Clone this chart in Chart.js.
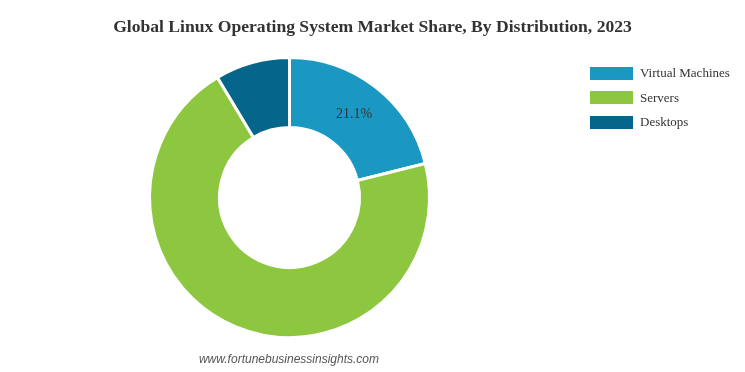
<!DOCTYPE html>
<html>
<head>
<meta charset="utf-8">
<script src="https://cdn.jsdelivr.net/npm/chart.js@4.4.1/dist/chart.umd.min.js"></script>
<style>
    body { margin: 0; background: #fff; }
    #wrap { position: relative; width: 745px; height: 372px; }
    #chart { position: absolute; left: 0; top: 0; }
    #title { position: absolute; left: 0; width: 745px; top: 16px; text-align: center; font-family: "Liberation Serif", "Times New Roman", serif; font-weight: bold; font-size: 17.6px; color: #333; }
    #legend { position: absolute; left: 590px; top: 61px; font-family: "Liberation Serif", "Times New Roman", serif; font-size: 13px; color: #333; }
    .item { display: flex; align-items: center; height: 24.5px; }
    .box { width: 43px; height: 13px; margin-right: 7px; }
    #watermark { position: absolute; left: 0; width: 578px; top: 352px; text-align: center; font-family: "Liberation Sans", Arial, sans-serif; font-style: italic; font-size: 12px; color: #555; }
</style>
</head>
<body>
<div id="wrap">
    <canvas id="chart" width="745" height="372"></canvas>
    <div id="title">Global Linux Operating System Market Share, By Distribution, 2023</div>
    <div id="legend"></div>
    <div id="watermark">www.fortunebusinessinsights.com</div>
</div>
<script>
// Dữ liệu biểu đồ
const labels = ['Virtual Machines', 'Servers', 'Desktops'];
const shares = [21.1, 70.3, 8.6];
const colors = ['#1b98c2', '#8dc63f', '#05658a'];
const shownLabels = ['21.1%', '', ''];

// Vẽ nhãn phần trăm trên lát
const sliceLabels = {
    id: 'sliceLabels',
    afterDatasetsDraw(chart) {
        const ctx = chart.ctx;
        const meta = chart.getDatasetMeta(0);
        ctx.save();
        ctx.font = '14px "Liberation Serif", "Times New Roman", serif';
        ctx.fillStyle = '#333';
        ctx.textAlign = 'center';
        ctx.textBaseline = 'middle';
        meta.data.forEach((arc, i) => {
            if (!shownLabels[i]) return;
            const p = arc.tooltipPosition();
            ctx.fillText(shownLabels[i], p.x, p.y);
        });
        ctx.restore();
    }
};

const ctx = document.getElementById('chart').getContext('2d');
const chart = new Chart(ctx, {
    type: 'doughnut',
    data: {
        labels: labels,
        datasets: [{
            data: shares,
            backgroundColor: colors,
            borderColor: '#fff',
            borderWidth: 3
        }]
    },
    options: {
        responsive: false,
        animation: false,
        cutout: '50%',
        layout: { padding: { left: 148, right: 314, top: 56, bottom: 33 } },
        plugins: {
            legend: { display: false },
            tooltip: { enabled: false },
            title: { display: false }
        }
    },
    plugins: [sliceLabels]
});

// Chú thích tự tạo
const legend = document.getElementById('legend');
labels.forEach((name, i) => {
    const row = document.createElement('div');
    row.className = 'item';
    row.innerHTML = `<span class="box" style="background:${colors[i]}"></span><span>${name}</span>`;
    legend.appendChild(row);
});
</script>
</body>
</html>
